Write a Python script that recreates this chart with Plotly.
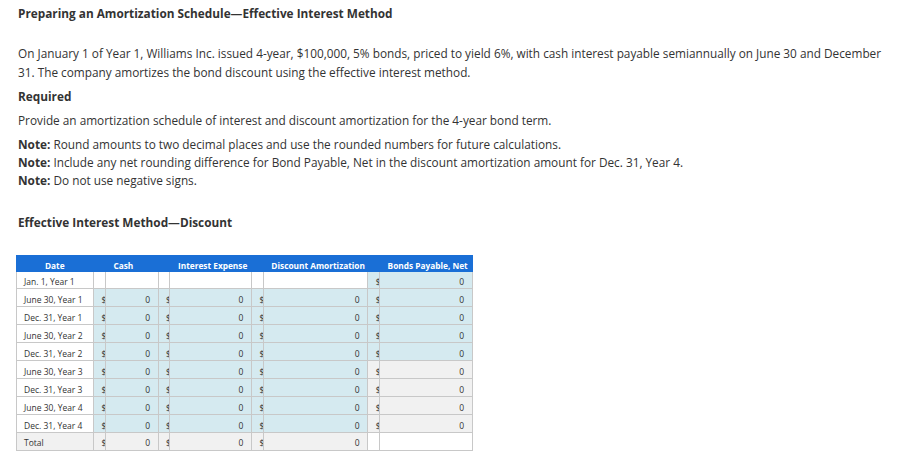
import plotly.graph_objs as go

# schedule data (all answer cells still empty -> 0)
dates = ['Jan. 1, Year 1', 'June 30, Year 1', 'Dec. 31, Year 1', 'June 30, Year 2', 'Dec. 31, Year 2',
         'June 30, Year 3', 'Dec. 31, Year 3', 'June 30, Year 4', 'Dec. 31, Year 4', 'Total']
cash = ['', 0, 0, 0, 0, 0, 0, 0, 0, 0]
interest = ['', 0, 0, 0, 0, 0, 0, 0, 0, 0]
discount = ['', 0, 0, 0, 0, 0, 0, 0, 0, 0]
bonds_net = [0, 0, 0, 0, 0, 0, 0, 0, 0, '']

W, H = 919, 473
BLUE = '#d5eaf0'
GRAY = '#f1f1f1'
WHITE = '#ffffff'
NB = '\u00a0'


def nb(s):
    return s.replace(' ', NB)


def dollars(vals):
    return ['' if v == '' else '$' for v in vals]


def fills(vals, gray_rows=()):
    out = []
    for i, v in enumerate(vals):
        if v == '':
            out.append(WHITE)
        elif i in gray_rows or i == len(vals) - 1:
            out.append(GRAY)
        else:
            out.append(BLUE)
    return out


gray_bonds = (5, 6, 7, 8)
fc = fills(cash)
fi = fills(interest)
fd = fills(discount)
fb = fills(bonds_net, gray_bonds)
fdate = [WHITE] * 9 + [GRAY]

cols = [[nb(d) for d in dates], dollars(cash), cash, dollars(interest), interest,
        dollars(discount), discount, dollars(bonds_net), bonds_net]
fill_cols = [fdate, fc, fc, fi, fi, fd, fd, fb, fb]

heads = ['Date', '', 'Cash', '', 'Interest Expense', '', 'Discount Amortization', '', 'Bonds Payable, Net']

table = go.Table(
    domain=dict(x=[8 / W, 464 / W], y=[0, 1 - 247 / H]),
    columnwidth=[78, 12, 53, 12, 82, 12, 105, 12, 93],
    header=dict(values=[nb(h) for h in heads],
                fill_color='#1a6fd6', line_color='#1a6fd6',
                font=dict(family='Open Sans', size=8.3, color='white', weight='bold'),
                align=['center', 'left', 'left', 'left', 'left', 'left', 'left', 'left', 'left'],
                height=16),
    cells=dict(values=cols, fill_color=fill_cols, line_color='#c8c8c8',
               font=dict(family='Open Sans', size=8.5, color='#333333'),
               align=['left', 'left', 'right', 'left', 'right', 'left', 'right', 'left', 'right'],
               height=17.9))

fig = go.Figure(table)

texts = [
    (8, 5, '<b>Preparing an Amortization Schedule—Effective Interest Method</b>'),
    (8, 45, 'On January 1 of Year 1, Williams Inc. issued 4-year, $100,000, 5% bonds, priced to yield 6%, with cash interest payable semiannually on June 30 and December'),
    (8, 64, '31. The company amortizes the bond discount using the effective interest method.'),
    (8, 88, '<b>Required</b>'),
    (8, 112, 'Provide an amortization schedule of interest and discount amortization for the 4-year bond term.'),
    (8, 136, '<b>Note:</b> Round amounts to two decimal places and use the rounded numbers for future calculations.'),
    (8, 154, '<b>Note:</b> Include any net rounding difference for Bond Payable, Net in the discount amortization amount for Dec. 31, Year 4.'),
    (8, 172, '<b>Note:</b> Do not use negative signs.'),
    (8, 214, '<b>Effective Interest Method—Discount</b>'),
]
for x, y, t in texts:
    fig.add_annotation(x=x / W, y=1 - y / H, xref='paper', yref='paper', text=t, showarrow=False,
                       xanchor='left', yanchor='middle', font=dict(family='Open Sans', size=11.8, color='#333333'))

fig.update_layout(width=W, height=H, margin=dict(l=0, r=0, t=0, b=0),
                  paper_bgcolor='white', plot_bgcolor='white')
fig.write_html('out.html')
